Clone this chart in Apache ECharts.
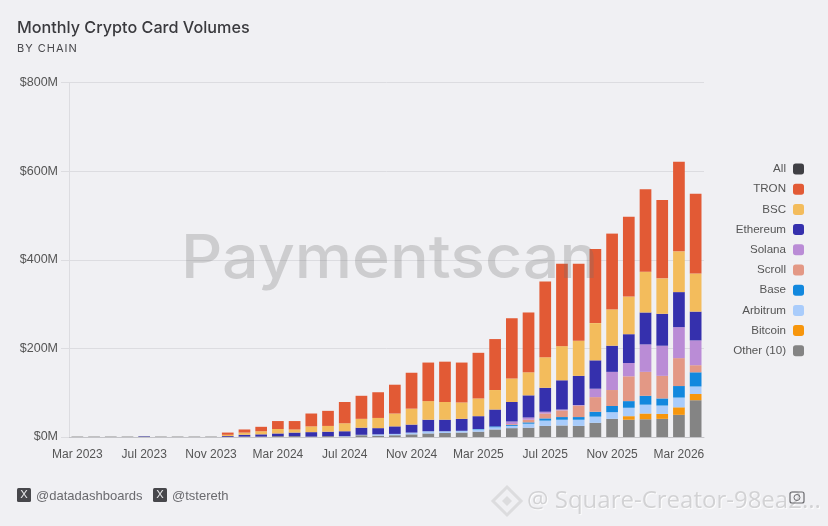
<!DOCTYPE html>
<html><head><meta charset="utf-8">
<style>html,body{margin:0;padding:0;background:#f0f0f3}#c{width:828px;height:526px}</style>
<script src="https://cdn.jsdelivr.net/npm/echarts@6/dist/echarts.min.js"></script>
</head><body><div id="c"></div>
<script>
const startYear = 2023;
const monthNames = ['Jan','Feb','Mar','Apr','May','Jun','Jul','Aug','Sep','Oct','Nov','Dec'];
const categories = [];
for (let i = 0; i < 38; i++) { const m = 2 + i; categories.push(monthNames[m % 12] + ' ' + (startYear + Math.floor(m / 12))); }
const yTicks = [0, 200, 400, 600, 800];

const other    = [1,1,1,1,1,1,1,1,1,0,1,1,2,2,1,2,1,4,3,4,6,8,9,10,12,17,20,21,25,26,25,32,41,39,40,41,50,83];
const bitcoin  = [0,0,0,0,0,0,0,0,0,0,0,0,0,0,0,0,0,0,0,0,0,0,0,0,0,0,0,0,0,0,0,0,0,8,13,11,17,14];
const arbitrum = [0,0,0,0,0,0,0,0,0,0,0,0,0,0,0,0,1,1,3,3,4,5,4,4,5,5,5,9,12,13,14,14,15,19,20,19,22,17];
const base     = [0,0,0,0,0,0,0,0,0,0,0,0,0,0,0,0,0,0,0,0,0,0,0,0,1,2,2,3,5,6,6,11,14,15,20,16,26,32];
const scroll   = [0,0,0,0,0,0,0,0,0,0,0,0,0,0,0,0,0,0,0,0,0,0,0,0,0,0,2,6,11,15,26,33,36,56,54,51,63,16];
const solana   = [0,0,0,0,0,0,0,0,0,0,0,0,0,0,0,0,0,0,0,0,0,0,0,0,0,0,6,5,4,2,1,19,41,30,62,68,70,56];
const ethereum = [0,0,0,0,1,0,0,0,0,2,4,5,6,8,10,10,11,16,14,17,18,26,26,27,29,38,44,50,54,66,66,64,59,65,72,72,79,65];
const bsc      = [0,0,0,0,0,0,0,0,0,3,5,7,10,7,13,13,18,20,23,29,36,42,40,37,40,44,53,52,69,77,79,84,82,85,92,80,92,86];
const tron     = [0,0,0,0,0,0,0,0,0,5,7,10,18,19,29,34,48,52,58,65,81,87,91,90,103,115,136,135,171,186,174,167,171,180,186,177,202,180];

const legendOrder = ['All','TRON','BSC','Ethereum','Solana','Scroll','Base','Arbitrum','Bitcoin','Other (10)'];
const stackSeries = [
  ['Other (10)', other, '#848484'],
  ['Bitcoin', bitcoin, '#F7960C'],
  ['Arbitrum', arbitrum, '#A9CCFB'],
  ['Base', base, '#1288DE'],
  ['Scroll', scroll, '#E39885'],
  ['Solana', solana, '#BA8CD6'],
  ['Ethereum', ethereum, '#3530AD'],
  ['BSC', bsc, '#F3BC5C'],
  ['TRON', tron, '#E25A35']
];
const UI = 'Inter, "Liberation Sans", sans-serif';
const AX = '"Liberation Sans", Inter, sans-serif';
const chart = echarts.init(document.getElementById('c'), null, {renderer:'canvas'});
const series = [{name:'All', type:'bar', stack:'t', data:[], itemStyle:{color:'#3f3f44'}}]
  .concat(stackSeries.map(([name, data, color]) => ({
    name, type:'bar', stack:'t', data, barWidth:'70%', itemStyle:{color}, silent:true
  })));
function xIcon(x, y) {
  return [
    {type:'rect', shape:{x, y, width:14, height:14, r:1.5}, style:{fill:'#47474b'}},
    {type:'text', style:{x:x+7, y:y+7, text:'X', fill:'#e8e8ea', font:'11px '+UI, align:'center', verticalAlign:'middle'}}
  ];
}
const H = '\u200A';
chart.setOption({
  animation:false,
  backgroundColor:'#f0f0f3',
  grid:{left:69, right:124, top:82.5, bottom:89, containLabel:false},
  legend:{
    orient:'vertical', data:legendOrder, right:19, top:158, align:'right',
    itemWidth:11, itemHeight:11, itemGap:8.2, icon:'roundRect', selectedMode:false,
    textStyle:{fontFamily:AX, fontSize:11.6, color:'#555', padding:[0,2,0,0]}
  },
  xAxis:{
    type:'category', data:categories,
    axisLine:{lineStyle:{color:'#c4c4c8', width:1}},
    axisTick:{show:false},
    axisLabel:{interval:3, fontFamily:AX, fontSize:12, color:'#555', margin:12, hideOverlap:false}
  },
  yAxis:{
    type:'value', min:0, max:yTicks[yTicks.length-1], interval:200,
    axisLine:{show:true, lineStyle:{color:'#dcdce0'}},
    axisTick:{show:true, length:8, lineStyle:{color:'#dcdce0'}},
    axisLabel:{formatter:v=>'$'+v+'M', fontFamily:AX, fontSize:12.5, color:'#555', margin:11},
    splitLine:{lineStyle:{color:'#dcdce0', width:1}}
  },
  series,
  graphic:{elements:[
    {type:'text', z:100, silent:true, style:{x:17, y:28, text:'Monthly Crypto Card Volumes', fill:'#3a3a3e', font:'500 16.2px '+UI, verticalAlign:'middle'}},
    {type:'text', z:100, silent:true, style:{x:17, y:49, text:'BY CHAIN'.split('').join(H), fill:'#48484c', font:'400 11px '+UI, verticalAlign:'middle'}},
    {type:'text', z:100, silent:true, x:181, y:260, scaleX:1.075, style:{x:0, y:0, text:'Paymentscan', fill:'rgba(110,110,110,0.27)', font:'500 60px '+UI, verticalAlign:'middle'}},
    ...xIcon(17,488).map(e=>({...e, z:100, silent:true})),
    {type:'text', z:100, silent:true, style:{x:36, y:496, text:'@datadashboards', fill:'#6a6a6e', font:'13px '+AX, verticalAlign:'middle'}},
    ...xIcon(153,488).map(e=>({...e, z:100, silent:true})),
    {type:'text', z:100, silent:true, style:{x:172, y:496, text:'@tstereth', fill:'#6a6a6e', font:'13px '+AX, verticalAlign:'middle'}},
    {type:'polygon', z:100, silent:true, shape:{points:[[507,487],[521,501],[507,515],[493,501]]}, style:{fill:'none', stroke:'#dcdcde', lineWidth:3}},
    {type:'polygon', z:100, silent:true, shape:{points:[[507,496],[512,501],[507,506],[502,501]]}, style:{fill:'#dcdcde'}},
    {type:'text', z:100, silent:true, style:{x:527, y:501, text:'@ Square-Creator-98ea2...', fill:'#d2d2d4', font:'24px "Open Sans", '+AX, verticalAlign:'middle', textShadowColor:'rgba(255,255,255,0.9)', textShadowBlur:1, textShadowOffsetX:1, textShadowOffsetY:1}},
    {type:'rect', z:100, silent:true, shape:{x:790, y:492, width:14, height:11, r:2}, style:{fill:'none', stroke:'#6a6a6e', lineWidth:1.2}},
    {type:'circle', z:100, silent:true, shape:{cx:797, cy:497.5, r:3}, style:{fill:'none', stroke:'#6a6a6e', lineWidth:1}}
  ]}
});
</script></body></html>
